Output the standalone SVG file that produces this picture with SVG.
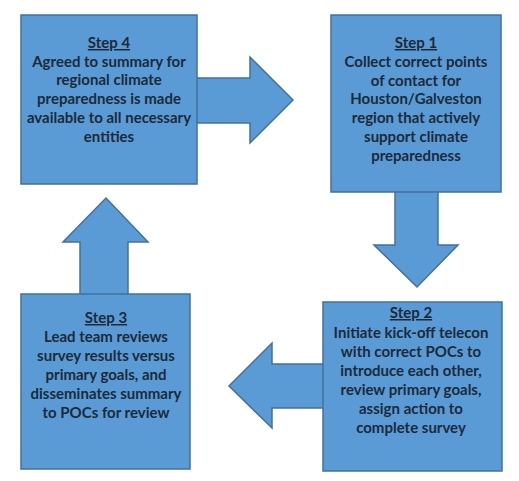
<svg xmlns="http://www.w3.org/2000/svg" width="519" height="481" viewBox="0 0 519 481">
<style>
.shape{fill:#5B9BD5;stroke:#41719C;stroke-width:1.5;stroke-linejoin:miter}
.t{font-family:"Lato","Liberation Sans",sans-serif;font-weight:bold;font-size:15px;fill:#1C2A3A;text-anchor:middle}
.h{text-decoration:underline}
</style>
<rect width="519" height="481" fill="#FFFFFF"/>
<g id="connectors">
<polygon class="shape" points="195,78 250,78 250,57 293,100 250,143 250,123 195,123"/>
<polygon class="shape" points="395,190 438,190 438,245 458,245 417,287 374,245 395,245"/>
<polygon class="shape" points="325,364 272,364 272,343 229,386 272,428 272,408 325,408"/>
<polygon class="shape" points="80,296 80,242 63,242 106,198 148,242 128,242 128,296"/>
</g>
<g id="step4">
<rect class="shape" x="21" y="15" width="176" height="169"/>
<text class="t h" x="109" y="48">Step 4</text>
<text class="t" x="109" y="67">Agreed to summary for</text>
<text class="t" x="109" y="85">regional climate</text>
<text class="t" x="109" y="104">preparedness is made</text>
<text class="t" x="109" y="123">available to all necessary</text>
<text class="t" x="109" y="142">entities</text>
</g>
<g id="step1">
<rect class="shape" x="331" y="15" width="170" height="177"/>
<text class="t h" x="416" y="48">Step 1</text>
<text class="t" x="416" y="67">Collect correct points</text>
<text class="t" x="416" y="86">of contact for</text>
<text class="t" x="416" y="104">Houston/Galveston</text>
<text class="t" x="416" y="123">region that actively</text>
<text class="t" x="416" y="142">support climate</text>
<text class="t" x="416" y="161">preparedness</text>
</g>
<g id="step2">
<rect class="shape" x="323" y="302" width="179" height="169"/>
<text class="t h" x="411" y="318">Step 2</text>
<text class="t" x="411" y="338">Initiate kick-off telecon</text>
<text class="t" x="411" y="357">with correct POCs to</text>
<text class="t" x="411" y="376">introduce each other,</text>
<text class="t" x="411" y="395">review primary goals,</text>
<text class="t" x="411" y="414">assign action to</text>
<text class="t" x="411" y="433">complete survey</text>
</g>
<g id="step3">
<rect class="shape" x="21" y="294" width="169" height="175"/>
<text class="t h" x="106" y="323">Step 3</text>
<text class="t" x="106" y="342">Lead team reviews</text>
<text class="t" x="106" y="361">survey results versus</text>
<text class="t" x="106" y="380">primary goals, and</text>
<text class="t" x="106" y="399">disseminates summary</text>
<text class="t" x="106" y="418">to POCs for review</text>
</g>
</svg>
